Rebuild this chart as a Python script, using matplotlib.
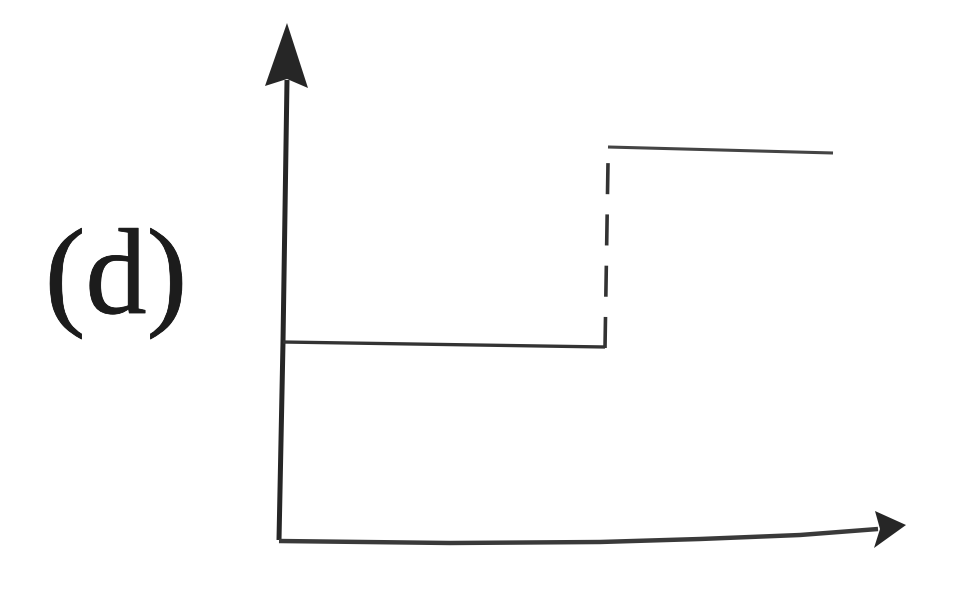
import matplotlib
matplotlib.use("Agg")
import matplotlib.pyplot as plt
from matplotlib.patches import Polygon
import matplotlib.patheffects as pe

# Sketch coordinates (pixel-like units, y grows downward)
label_text = "(d)"
y_axis_x = [279, 283, 287]
y_axis_y = [540, 342, 80]
x_axis_x = [279, 450, 600, 700, 800, 878]
x_axis_y = [541, 543, 542, 539, 535, 529]
low_step_x = [283, 605]
low_step_y = [342, 347]
jump_x = [605, 608]
jump_y = [348, 163]
high_step_x = [608, 833]
high_step_y = [147, 153]
y_head_x = [287, 265, 287, 308]
y_head_y = [23, 86, 79, 88]
x_head_x = [906, 875, 880, 874]
x_head_y = [525, 511, 529, 548]

fig = plt.figure(figsize=(9.6, 6.06), dpi=100)
ax = fig.add_axes([0, 0, 1, 1])
ax.set_xlim(0, 960)
ax.set_ylim(606, 0)
ax.axis("off")

ink = "#262626"
ax.plot(y_axis_x, y_axis_y, color=ink, lw=3.6, solid_capstyle="butt")
ax.plot(x_axis_x, x_axis_y, color="#3a3a3a", lw=3.2, solid_capstyle="butt")
ax.add_patch(Polygon(list(zip(y_head_x, y_head_y)), closed=True, color=ink, lw=0))
ax.add_patch(Polygon(list(zip(x_head_x, x_head_y)), closed=True, color=ink, lw=0))

ax.plot(low_step_x, low_step_y, color="#333333", lw=2.4, solid_capstyle="butt")
ax.plot(jump_x, jump_y, color="#333333", lw=2.6, linestyle=(0, (8.6, 5.6)),
        dash_capstyle="butt")
ax.plot(high_step_x, high_step_y, color="#444444", lw=2.2, solid_capstyle="butt")

ax.text(116, 313, label_text, fontsize=88, family="Liberation Serif",
        ha="center", va="baseline", color="#1c1c1c",
        path_effects=[pe.withStroke(linewidth=0.6, foreground="#1c1c1c")])

fig.savefig("out.png", dpi=100, facecolor="white")
